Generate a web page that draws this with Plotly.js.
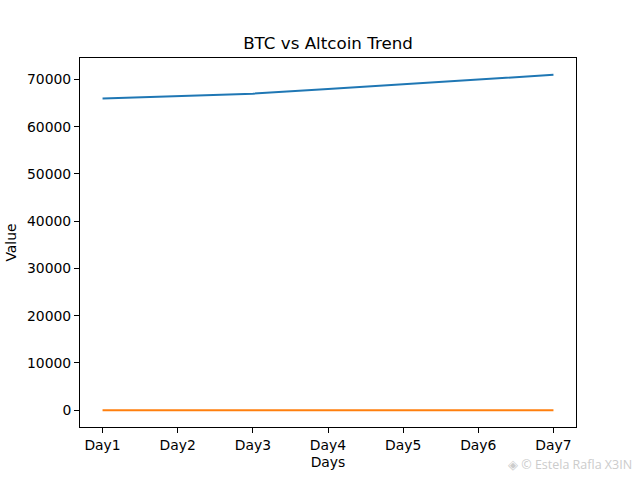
<!DOCTYPE html>
<html><head><meta charset="utf-8">
<script src="https://cdn.plot.ly/plotly-3.0.1.min.js"></script>
<style>body{margin:0;padding:0;}#chart{width:640px;height:480px;}</style>
</head><body><div id="chart"></div>
<script>
var days = ["Day1","Day2","Day3","Day4","Day5","Day6","Day7"];
var btc = [66000, 66500, 67000, 68000, 69000, 70000, 71000];
var altcoin = [0.62, 0.63, 0.65, 0.64, 0.66, 0.67, 0.68];
var yTicks = [0, 10000, 20000, 30000, 40000, 50000, 60000, 70000];

var traces = [
  {x: days, y: btc, type: "scatter", mode: "lines", name: "BTC", line: {color: "#1f77b4", width: 2}},
  {x: days, y: altcoin, type: "scatter", mode: "lines", name: "Altcoin", line: {color: "#ff7f0e", width: 2}}
];
var axisCommon = {showline: true, linecolor: "black", linewidth: 1, mirror: true, ticks: "outside", ticklen: 5, tickcolor: "black", showgrid: false, zeroline: false, tickfont: {size: 13.9, color: "black"}};
var layout = {
  width: 640, height: 480,
  margin: {l: 80, r: 64, t: 58, b: 53},
  paper_bgcolor: "white", plot_bgcolor: "white",
  font: {family: "DejaVu Sans, sans-serif", color: "black"},
  showlegend: false,
  title: {text: "BTC vs Altcoin Trend", font: {size: 16.7, color: "black"}, xref: "paper", x: 0.5, xanchor: "center", yref: "container", y: 1 - 43/480, yanchor: "middle"},
  xaxis: Object.assign({}, axisCommon, {type: "category", range: [-0.3, 6.3], title: {text: "Days", font: {size: 13.9}, standoff: 5}}),
  yaxis: Object.assign({}, axisCommon, {range: [-3550, 74550], tickvals: yTicks, ticktext: yTicks.map(String), title: {text: "Value", font: {size: 13.9}, standoff: 7}}),
  annotations: [{text: "◈ © Estela Rafla X3IN", xref: "paper", yref: "paper", x: 1 + 58/496, y: -38/369, xanchor: "right", yanchor: "middle", showarrow: false, font: {size: 12.5, color: "#cccccc", family: "Open Sans, sans-serif"}}]
};
Plotly.newPlot("chart", traces, layout, {displayModeBar: false, staticPlot: true});
</script></body></html>
